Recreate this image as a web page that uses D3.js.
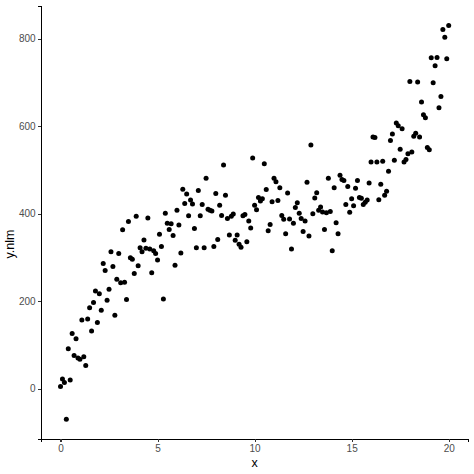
<!DOCTYPE html>
<html>
<head>
<meta charset="utf-8">
<script src="https://cdn.jsdelivr.net/npm/d3@7"></script>
<style>
  body { margin: 0; background: #ffffff; }
  svg { display: block; font-family: "Liberation Sans", Arial, Helvetica, sans-serif; }
  .axis path, .axis line { stroke: #000000; stroke-width: 1.07px; shape-rendering: crispEdges; }
  .axis .tick line { stroke: #333333; }
  .axis text { fill: #4d4d4d; font-size: 10px; }
  .label { fill: #000000; font-size: 12.5px; }
</style>
</head>
<body>
<script>
//Global variables
const width = 474;
const height = 474;
const plotLeft = 41.1, plotRight = 468.1, plotTop = 5.8, plotBottom = 439;

//x values
const xValues = [
  0, 0.1, 0.2, 0.3, 0.4, 0.5, 0.6, 0.7, 0.8, 0.9, 1, 1.1, 1.2, 1.3, 1.4, 1.5, 1.6, 1.7, 1.8, 1.9,
  2, 2.1, 2.2, 2.3, 2.4, 2.5, 2.6, 2.7, 2.8, 2.9, 3, 3.1, 3.2, 3.3, 3.4, 3.5, 3.6, 3.7, 3.8, 3.9,
  4, 4.1, 4.2, 4.3, 4.4, 4.5, 4.6, 4.7, 4.8, 4.9, 5, 5.1, 5.2, 5.3, 5.4, 5.5, 5.6, 5.7, 5.8, 5.9,
  6, 6.1, 6.2, 6.3, 6.4, 6.5, 6.6, 6.7, 6.8, 6.9, 7, 7.1, 7.2, 7.3, 7.4, 7.5, 7.6, 7.7, 7.8, 7.9,
  8, 8.1, 8.2, 8.3, 8.4, 8.5, 8.6, 8.7, 8.8, 8.9, 9, 9.1, 9.2, 9.3, 9.4, 9.5, 9.6, 9.7, 9.8, 9.9,
  10, 10.1, 10.2, 10.3, 10.4, 10.5, 10.6, 10.7, 10.8, 10.9, 11, 11.1, 11.2, 11.3, 11.4, 11.5, 11.6, 11.7, 11.8, 11.9,
  12, 12.1, 12.2, 12.3, 12.4, 12.5, 12.6, 12.7, 12.8, 12.9, 13, 13.1, 13.2, 13.3, 13.4, 13.5, 13.6, 13.7, 13.8, 13.9,
  14, 14.1, 14.2, 14.3, 14.4, 14.5, 14.6, 14.7, 14.8, 14.9, 15, 15.1, 15.2, 15.3, 15.4, 15.5, 15.6, 15.7, 15.8, 15.9,
  16, 16.1, 16.2, 16.3, 16.4, 16.5, 16.6, 16.7, 16.8, 16.9, 17, 17.1, 17.2, 17.3, 17.4, 17.5, 17.6, 17.7, 17.8, 17.9,
  18, 18.1, 18.2, 18.3, 18.4, 18.5, 18.6, 18.7, 18.8, 18.9, 19, 19.1, 19.2, 19.3, 19.4, 19.5, 19.6, 19.7, 19.8, 19.9, 20
];

//y.nlm values
const yValues = [
  5, 22, 14, -70, 91, 20, 126, 76, 114, 70, 67, 157, 73, 53, 159, 185, 132, 197, 223, 151,
  217, 179, 286, 270, 202, 227, 313, 279, 168, 250, 309, 242, 363, 243, 204, 382, 299, 296, 263, 394,
  281, 322, 313, 340, 321, 390, 319, 265, 315, 309, 294, 353, 325, 205, 401, 378, 364, 377, 350, 282,
  408, 374, 310, 456, 423, 445, 395, 431, 422, 366, 322, 453, 395, 421, 322, 481, 410, 408, 406, 325,
  446, 341, 419, 396, 511, 442, 389, 351, 394, 399, 339, 351, 330, 323, 395, 398, 336, 383, 367, 527,
  419, 409, 437, 429, 434, 514, 455, 361, 375, 427, 481, 473, 430, 459, 396, 387, 354, 447, 388, 319,
  378, 414, 425, 401, 389, 359, 383, 472, 349, 557, 400, 436, 448, 408, 415, 404, 364, 402, 481, 405,
  315, 459, 379, 354, 488, 478, 476, 421, 462, 403, 434, 418, 458, 476, 437, 435, 421, 426, 431, 470,
  518, 575, 574, 518, 432, 467, 520, 442, 451, 497, 567, 582, 522, 607, 601, 547, 594, 518, 524, 537,
  702, 541, 577, 584, 701, 575, 655, 626, 619, 551, 546, 756, 699, 738, 757, 642, 668, 821, 803, 754, 830
];

//tick labels
const xTicks = [0, 5, 10, 15, 20];
const yTicks = [0, 200, 400, 600, 800];

const data = xValues.map((x, i) => ({ x: x, y: yValues[i] }));

//5% padding on both ends, like ggplot
function padded(extent) {
  const pad = (extent[1] - extent[0]) * 0.05;
  return [extent[0] - pad, extent[1] + pad];
}

//Scales
const xScale = d3.scaleLinear()
  .domain(padded(d3.extent(xValues)))
  .range([plotLeft, plotRight]);

const yScale = d3.scaleLinear()
  .domain(padded(d3.extent(yValues)))
  .range([plotBottom, plotTop]);

//SVG element
const svg = d3.select("body")
  .append("svg")
  .attr("width", width)
  .attr("height", height);

//Points
svg.append("g")
  .selectAll("circle")
  .data(data)
  .join("circle")
  .attr("cx", d => xScale(d.x))
  .attr("cy", d => yScale(d.y))
  .attr("r", 2.5)
  .attr("fill", "#000000");

//Axes
svg.append("g")
  .attr("class", "axis")
  .attr("transform", "translate(0," + plotBottom + ")")
  .call(d3.axisBottom(xScale).tickValues(xTicks).tickSizeOuter(0).tickSize(3).tickPadding(2.5));

svg.append("g")
  .attr("class", "axis")
  .attr("transform", "translate(" + plotLeft + ",0)")
  .call(d3.axisLeft(yScale).tickValues(yTicks).tickSizeOuter(0).tickSize(3).tickPadding(2.5));

//Axes labels
svg.append("text")
  .attr("class", "label")
  .attr("x", (plotLeft + plotRight) / 2)
  .attr("y", 467)
  .attr("text-anchor", "middle")
  .text("x");

svg.append("text")
  .attr("class", "label")
  .attr("transform", "translate(14,244) rotate(-90)")
  .attr("text-anchor", "middle")
  .text("y.nlm");
</script>
</body>
</html>
